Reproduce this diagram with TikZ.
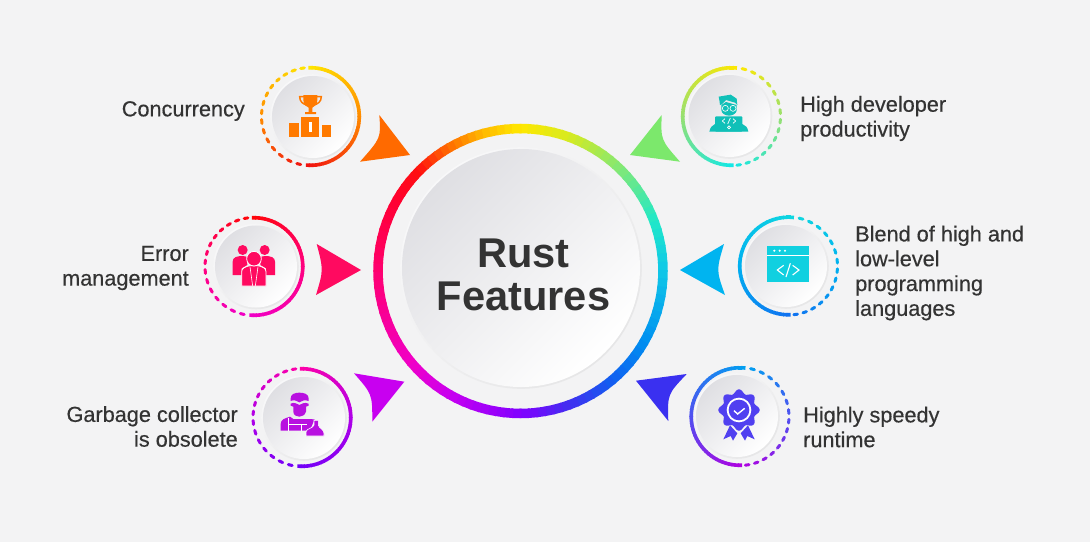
\documentclass[tikz,border=0pt]{standalone}
\usepackage{fontspec}
\setmainfont{Liberation Sans}
\newfontfamily\labfont[FakeBold=0.45]{Liberation Sans}
\newfontfamily\ttlfont{Liberation Sans Bold}
\definecolor{bgc}{HTML}{F3F3F4}
\definecolor{txt}{HTML}{333333}
\definecolor{tro}{HTML}{FF7A00}
\definecolor{ppl}{HTML}{FF0A60}
\definecolor{wrk}{HTML}{B810E0}
\definecolor{dvc}{HTML}{10C0B8}
\definecolor{brw}{HTML}{10D0E0}
\definecolor{bdg}{HTML}{5040F0}
\definecolor{trigr}{HTML}{7CE86C}
\definecolor{tribl}{HTML}{00B4F0}
\definecolor{triin}{HTML}{3A30F0}
\definecolor{rimhi}{HTML}{F8F8F9}
\definecolor{rimlo}{HTML}{E6E6E7}
\definecolor{dischi}{HTML}{DFDFE3}
% colour stops
\definecolor{c0}{HTML}{FFE800}\definecolor{c1}{HTML}{D8EA20}\definecolor{c2}{HTML}{80E878}
\definecolor{c3}{HTML}{20E8C8}\definecolor{c4}{HTML}{10C8E8}\definecolor{c5}{HTML}{0090F0}
\definecolor{c6}{HTML}{1060F0}\definecolor{c7}{HTML}{4030F0}\definecolor{c8}{HTML}{8000FF}
\definecolor{c9}{HTML}{C800F0}\definecolor{c10}{HTML}{F000C8}\definecolor{c11}{HTML}{FF0070}
\definecolor{c12}{HTML}{FF0030}\definecolor{c13}{HTML}{FF1010}\definecolor{c14}{HTML}{FF6A00}
\definecolor{c15}{HTML}{FFB800}
\definecolor{a0}{HTML}{FFE800}\definecolor{a1}{HTML}{FF8C00}\definecolor{a2}{HTML}{F01010}
\definecolor{b0}{HTML}{FF0505}\definecolor{b1}{HTML}{FF0080}\definecolor{b2}{HTML}{F000C8}
\definecolor{d0}{HTML}{FF00A8}\definecolor{d1}{HTML}{B000E8}\definecolor{d2}{HTML}{7000F8}
\definecolor{e0}{HTML}{FFE800}\definecolor{e1}{HTML}{98E070}\definecolor{e2}{HTML}{10E8E8}
\definecolor{f0}{HTML}{10D8E0}\definecolor{f1}{HTML}{00B0F0}\definecolor{f2}{HTML}{1070F0}
\definecolor{g0}{HTML}{00A0F0}\definecolor{g1}{HTML}{5050F0}\definecolor{g2}{HTML}{B000E0}
\tikzset{
  zm/.style n args={2}{shift={(#1,#2)},x=0.33333pt,y=-0.33333pt},
  lab/.style={inner sep=0pt,text=txt,font=\labfont\fontsize{21.7}{24.8}\selectfont},
  ttl/.style={inner sep=0pt,text=txt,align=center,font=\ttlfont\fontsize{41.6}{42.5}\selectfont},
}
% #1 cx #2 cy #3 r #4 width #5 a1 #6 a2 #7 c1 #8 c2 #9 steps
\newcommand{\sarc}[9]{%
  \foreach \i in {1,...,#9}{%
    \pgfmathsetmacro\aa{#5+(#6-#5)*(\i-1)/#9-0.4*sign(#6-#5)}%
    \pgfmathsetmacro\ab{#5+(#6-#5)*\i/#9+0.4*sign(#6-#5)}%
    \pgfmathsetmacro\pp{100*(\i-0.5)/#9}%
    \draw[line width=#4pt,color=#8!\pp!#7]
      ({#1+#3*cos(\aa)},{#2-#3*sin(\aa)}) -- ({#1+#3*cos(\ab)},{#2-#3*sin(\ab)});
  }}
% dashes: #1 cx #2 cy #3 a1 #4 a2 #5 c1 #6 c2 #7 count
\newcommand{\darc}[7]{%
  \foreach \i in {1,...,#7}{%
    \pgfmathsetmacro\aa{#3+(#4-#3)*(\i-0.70)/#7}%
    \pgfmathsetmacro\ab{#3+(#4-#3)*(\i-0.30)/#7}%
    \pgfmathsetmacro\pp{100*(\i-0.5)/#7}%
    \draw[line width=3pt,line cap=round,color=#6!\pp!#5]
      ({#1+49*cos(\aa)},{#2-49*sin(\aa)}) -- ({#1+49*cos(\ab)},{#2-49*sin(\ab)});
  }}
% disc
\newcommand{\discs}[3]{%
  \shade[top color=rimhi,bottom color=rimlo,shading angle=45] (#1,#2) circle[radius=#3+1.8];
  \shade[top color=dischi,bottom color=white,shading angle=45] (#1,#2) circle[radius=#3];
}
\begin{document}
\begin{tikzpicture}[x=1pt,y=-1pt,line cap=butt]
\useasboundingbox (0,0) rectangle (1090,542);
\fill[bgc] (0,0) rectangle (1090,542);

% main ring
\sarc{520.5}{271}{142.5}{9.5}{90}{70}{c0}{c1}{6}
\sarc{520.5}{271}{142.5}{9.5}{70}{45}{c1}{c2}{8}
\sarc{520.5}{271}{142.5}{9.5}{45}{20}{c2}{c3}{8}
\sarc{520.5}{271}{142.5}{9.5}{20}{0}{c3}{c4}{6}
\sarc{520.5}{271}{142.5}{9.5}{0}{-30}{c4}{c5}{9}
\sarc{520.5}{271}{142.5}{9.5}{-30}{-50}{c5}{c6}{6}
\sarc{520.5}{271}{142.5}{9.5}{-50}{-70}{c6}{c7}{6}
\sarc{520.5}{271}{142.5}{9.5}{-70}{-90}{c7}{c8}{6}
\sarc{520.5}{271}{142.5}{9.5}{-90}{-120}{c8}{c9}{9}
\sarc{520.5}{271}{142.5}{9.5}{-120}{-140}{c9}{c10}{6}
\sarc{520.5}{271}{142.5}{9.5}{-140}{-180}{c10}{c11}{12}
\sarc{520.5}{271}{142.5}{9.5}{-180}{-210}{c11}{c12}{9}
\sarc{520.5}{271}{142.5}{9.5}{-210}{-225}{c12}{c13}{5}
\sarc{520.5}{271}{142.5}{9.5}{-225}{-240}{c13}{c14}{5}
\sarc{520.5}{271}{142.5}{9.5}{-240}{-255}{c14}{c15}{5}
\sarc{520.5}{271}{142.5}{9.5}{-255}{-270}{c15}{c0}{5}
\discs{521}{268}{119}
\node[ttl] (title) at (523.5,275) {Rust\\Features};

% triangles
\fill[c14] (379.3,115) -- (410,155) -- (360,161.7) .. controls (381,138) .. cycle;
\fill[ppl] (316.7,244) -- (361,270) -- (316,295) .. controls (323.5,270) .. cycle;
\fill[c9] (354,373.3) -- (404.3,381.7) -- (372.3,421.7) .. controls (372.3,394.2) .. cycle;
\fill[trigr] (661.7,115) -- (630,155) -- (680,161.7) .. controls (660.8,140) .. cycle;
\fill[tribl] (724,244) -- (680,270) -- (725,295) .. controls (716.2,270.2) .. cycle;
\fill[triin] (686.7,374) -- (636,380.7) -- (668.3,421) .. controls (667.5,394.2) .. cycle;

% Concurrency
\sarc{310.5}{116.5}{48.8}{3.6}{92}{0}{a0}{a1}{24}
\sarc{310.5}{116.5}{48.8}{3.6}{0}{-95}{a1}{a2}{24}
\darc{310.5}{116.5}{-98}{-180}{a2}{a1}{7}
\darc{310.5}{116.5}{-180}{-266}{a1}{a0}{8}
\discs{313}{117}{41}
\node[lab,anchor=east] (concurrency) at (245,111) {Concurrency};

% Error
\sarc{254}{266.5}{48.8}{3.6}{92}{0}{b0}{b1}{24}
\sarc{254}{266.5}{48.8}{3.6}{0}{-95}{b1}{b2}{24}
\darc{254}{266.5}{-98}{-180}{b2}{b1}{7}
\darc{254}{266.5}{-180}{-266}{b1}{b0}{8}
\discs{256}{266.5}{41}
\node[lab,anchor=east,align=right] (error) at (189,268) {Error\\management};

% Garbage
\sarc{302}{417.5}{48.8}{3.6}{92}{0}{d0}{d1}{24}
\sarc{302}{417.5}{48.8}{3.6}{0}{-95}{d1}{d2}{24}
\darc{302}{417.5}{-98}{-180}{d2}{d1}{7}
\darc{302}{417.5}{-180}{-266}{d1}{d0}{8}
\discs{304}{418}{41}
\node[lab,anchor=east,align=right] (garbage) at (238,426.5) {Garbage collector\\is obsolete};

% Developer
\sarc{731.5}{116.5}{48.8}{3.6}{84}{180}{e0}{e1}{24}
\sarc{731.5}{116.5}{48.8}{3.6}{180}{272}{e1}{e2}{24}
\darc{731.5}{116.5}{81}{0}{e0}{e1}{7}
\darc{731.5}{116.5}{0}{-87}{e1}{e2}{8}
\discs{729.5}{116}{41}
\node[lab,anchor=west,align=left] (dev) at (800,118.5) {High developer\\productivity};

% Blend
\sarc{788.5}{266}{48.8}{3.6}{84}{180}{f0}{f1}{24}
\sarc{788.5}{266}{48.8}{3.6}{180}{272}{f1}{f2}{24}
\darc{788.5}{266}{81}{0}{f0}{f1}{7}
\darc{788.5}{266}{0}{-87}{f1}{f2}{8}
\discs{786}{266}{41}
\node[lab,anchor=west,align=left] (blend) at (855,273) {Blend of high and\\low-level\\programming\\languages};

% Speedy
\sarc{740}{416.5}{48.8}{3.6}{84}{180}{g0}{g1}{24}
\sarc{740}{416.5}{48.8}{3.6}{180}{272}{g1}{g2}{24}
\darc{740}{416.5}{81}{0}{g0}{g1}{7}
\darc{740}{416.5}{0}{-87}{g1}{g2}{8}
\discs{737}{416}{41}
\node[lab,anchor=west,align=left] (speedy) at (803,427) {Highly speedy\\runtime};

% trophy icon
\begin{scope}[zm={240}{50}]
  \fill[tro] (190,135) -- (232,135) -- (232,150) .. controls (232,165) and (222,170) .. (217,173) -- (217,186) -- (228,186) -- (228,192) -- (195,192) -- (195,186) -- (206,186) -- (206,173) .. controls (200,170) and (190,165) .. (190,150) -- cycle;
  \draw[tro,line width=1.5pt] (192,140) -- (179,140) .. controls (179,156) and (190,162) .. (200,165);
  \draw[tro,line width=1.5pt] (230,140) -- (244,140) .. controls (244,156) and (232,162) .. (222,165);
  \fill[tro] (183,200) rectangle (237,262);
  \fill[tro] (147,218) rectangle (178,262);
  \fill[tro] (245,224) rectangle (273,262);
  \fill[white] (208,215) rectangle (215,245);
\end{scope}

% people icon
\begin{scope}[zm={190}{200}]
  \fill[ppl] (158,150) circle[radius=15];
  \fill[ppl] (224,150) circle[radius=15];
  \fill[ppl] (128,225) -- (128,185) .. controls (128,172) and (140,168) .. (158,168) -- (170,170) -- (172,195) -- (155,205) -- (155,225) -- cycle;
  \fill[ppl] (255,225) -- (255,185) .. controls (255,172) and (243,168) .. (225,168) -- (213,170) -- (211,195) -- (228,205) -- (228,225) -- cycle;
  \draw[white,line width=0.8pt,fill=ppl] (155,258) -- (155,215) .. controls (155,205) and (165,200) .. (180,197) -- (204,197) .. controls (218,200) and (228,205) .. (228,215) -- (228,258) -- cycle;
  \draw[white,line width=0.8pt,fill=ppl] (192,176) circle[radius=22];
  \draw[white,line width=0.6pt] (180,200) -- (188,258) (204,200) -- (196,258);
\end{scope}

% worker icon
\begin{scope}[zm={240}{350}]
  \fill[wrk] (152,153) -- (152,145) .. controls (152,132) and (165,128) .. (178,128) .. controls (192,128) and (206,132) .. (206,145) -- (206,153) .. controls (192,148) and (190,152) .. (178,157) .. controls (168,152) and (162,148) .. (152,153) -- cycle;
  \fill[wrk] (152,161) .. controls (162,156) and (168,160) .. (178,165) .. controls (190,160) and (192,156) .. (206,161) -- (206,167) -- (198,170) -- (198,185) .. controls (195,196) and (185,200) .. (178,200) .. controls (170,200) and (160,196) .. (160,185) -- (160,170) -- (152,167) -- cycle;
  \fill[wrk] (122,242) -- (122,222) .. controls (122,208) and (135,205) .. (150,200) -- (160,207) -- (198,207) -- (224,208) -- (210,240) -- (200,242) -- cycle;
  \draw[white,line width=0.6pt] (146,205) -- (146,242) (183,222) -- (183,242) (146,222) -- (200,222);
  \draw[white,line width=0.6pt,fill=wrk] (198,258) -- (198,245) .. controls (200,235) and (220,235) .. (222,225) -- (222,211) -- (235,211) -- (235,225) .. controls (237,235) and (252,238) .. (252,250) -- (252,258) -- cycle;
\end{scope}

% developer icon
\begin{scope}[zm={620}{50}]
  \fill[dvc] (296,140) -- (332,134) -- (350,146) -- (352,165) -- (345,158) -- (318,150) -- (305,163) -- (300,165) -- (298,150) -- cycle;
  \fill[dvc] (304,165) -- (318,156) -- (350,165) -- (350,182) .. controls (348,192) and (336,197) .. (327,197) .. controls (316,197) and (304,190) .. (304,180) -- cycle;
  \draw[white,line width=0.6pt] (316,175) circle[radius=9] (339,175) circle[radius=9];
  \fill[dvc,rounded corners=1pt] (285,199) rectangle (367,245);
  \fill[dvc] (268,245) .. controls (270,232) and (278,225) .. (285,222) -- (367,222) .. controls (376,225) and (383,232) .. (385,245) -- cycle;
  \draw[white,line width=0.7pt] (315,206) -- (307,213) -- (315,220) (339,206) -- (347,213) -- (339,220) (331,204) -- (323,222);
  \draw[white,line width=0.7pt] (327,232) circle[radius=4.5];
\end{scope}

% browser icon
\begin{scope}[zm={670}{200}]
  \fill[brw] (290,138) rectangle (417,245);
  \draw[white,line width=0.9pt] (290,167) -- (417,167);
  \fill[white] (313,152) circle[radius=3.5] (329,152) circle[radius=3.5] (345,152) circle[radius=3.5];
  \draw[white,line width=1.1pt] (341,196) -- (322,210) -- (341,225) (368,196) -- (387,210) -- (368,225) (361,190) -- (348,231);
\end{scope}

% badge icon
\begin{scope}[zm={620}{350}]
  \fill[bdg] (330,226) -- (352,250) -- (339,272) -- (332,258) -- (310,268) -- cycle;
  \fill[bdg] (384,226) -- (362,250) -- (375,272) -- (382,258) -- (404,268) -- cycle;
  \fill[bdg] plot[domain=0:360,samples=121,smooth] ({357+(56+6*cos(8*\x))*cos(\x)},{180+(56+6*cos(8*\x))*sin(\x)}) -- cycle;
  \fill[white] (357,180) circle[radius=37];
  \fill[bdg] (357,180) circle[radius=31];
  \draw[white,line width=1.4pt] (342,182) -- (353,192) -- (374,175);
\end{scope}
\end{tikzpicture}
\end{document}
